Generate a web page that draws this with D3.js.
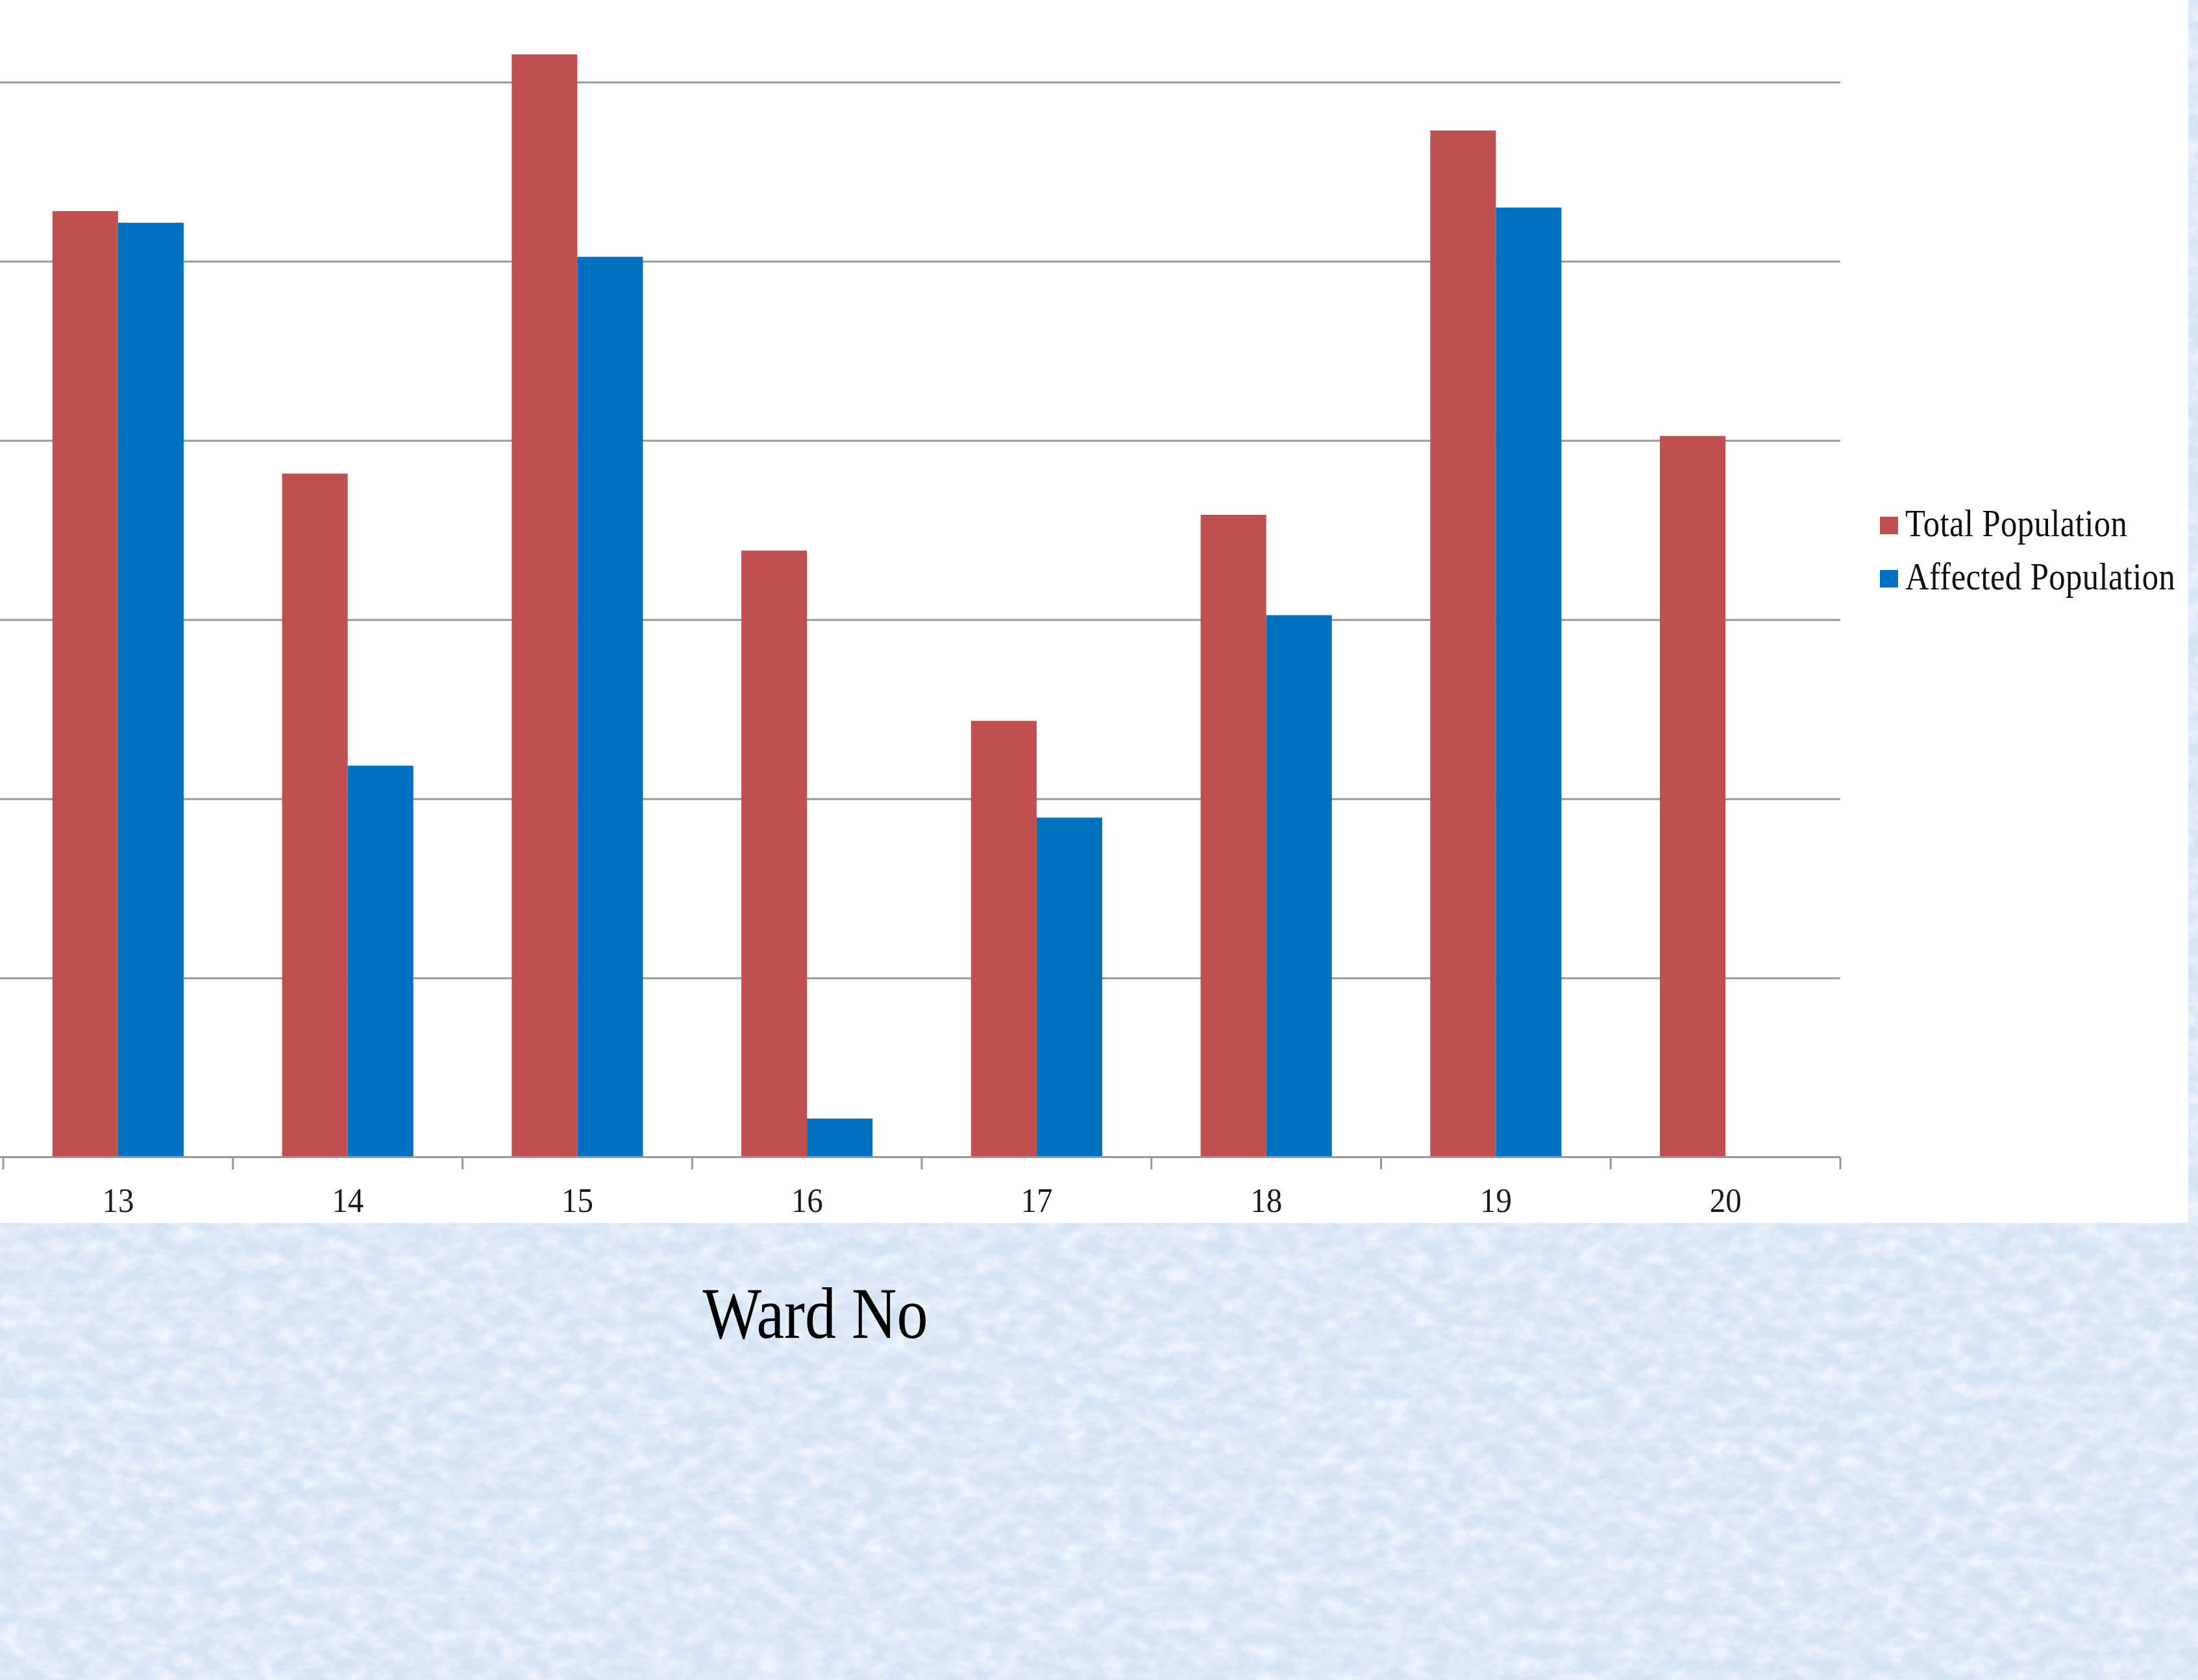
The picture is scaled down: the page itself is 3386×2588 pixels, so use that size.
<!DOCTYPE html>
<html>
<head>
<meta charset="utf-8">
<script src="https://cdn.jsdelivr.net/npm/d3@7"></script>
<style>
  html, body { margin: 0; padding: 0; background: #d7e5f5; }
  svg { display: block; }
</style>
</head>
<body>
<script>
// ward numbers on the x axis
let wards = ["13", "14", "15", "16", "17", "18", "19", "20"];
// series values (gridline step = 1000)
let totalPopulation    = [5280, 3815, 6155, 3385, 2435, 3585, 5730, 4025];
let affectedPopulation = [5215, 2185, 5025, 215, 1895, 3025, 5300, 0];
let seriesNames = ["Total Population", "Affected Population"];
let gridTicks = [0, 1000, 2000, 3000, 4000, 5000, 6000];
let xTitle = "Ward No";

let svgWidth = 3386;
let svgHeight = 2588;
// the chart is cut off on the left, so the plot starts at the page edge
let plot = {left: 5, right: 2835, top: 126.5, bottom: 1782.5};
let colors = ["#C0504D", "#0070C0"];

let svg = d3.select("body")
            .append("svg")
            .attr("width", svgWidth)
            .attr("height", svgHeight);

// blue tissue-paper background
let defs = svg.append("defs");
let tex = defs.append("filter")
              .attr("id", "tissue")
              .attr("x", 0).attr("y", 0)
              .attr("width", "100%").attr("height", "100%");
tex.append("feTurbulence")
   .attr("type", "fractalNoise")
   .attr("baseFrequency", "0.03 0.045")
   .attr("numOctaves", 4)
   .attr("seed", 7)
   .attr("result", "noise");
tex.append("feColorMatrix")
   .attr("in", "noise")
   .attr("type", "matrix")
   .attr("values", "0 0 0 0 1  0 0 0 0 1  0 0 0 0 1  1.8 0 0 0 -0.6");

svg.append("rect")
   .attr("width", svgWidth)
   .attr("height", svgHeight)
   .style("fill", "#d5e4f5");
svg.append("rect")
   .attr("width", svgWidth)
   .attr("height", svgHeight)
   .attr("filter", "url(#tissue)")
   .style("opacity", 0.7);

// white chart area
svg.append("rect")
   .attr("x", 0)
   .attr("y", 0)
   .attr("width", 3371)
   .attr("height", 1884)
   .style("fill", "#ffffff");

/*
 *  S C A L E S
 */
let xscale = d3.scaleBand()
  .domain(wards)
  .range([plot.left, plot.right])
  .paddingInner(0)
  .paddingOuter(0);
// two bars per ward, gap width 150% of a bar
let xsub = d3.scaleBand()
  .domain(seriesNames)
  .range([0, xscale.bandwidth()])
  .paddingInner(0)
  .paddingOuter(0.75);
let yscale = d3.scaleLinear()
  .domain([0, 6000])
  .range([plot.bottom, plot.top]);

/*
 *  G R I D
 */
let grid = d3.axisLeft()
             .scale(yscale)
             .tickValues(gridTicks.slice(1))
             .tickSize(-plot.right)
             .tickFormat("");
let gridG = svg.append("g")
               .attr("transform", "translate(0,0)")
               .call(grid);
gridG.select(".domain").remove();
gridG.selectAll(".tick line")
     .style("stroke", "#979797")
     .style("stroke-width", 3);

/*
 *  B A R S
 */
let rows = wards.map((w, i) => ({ward: w, values: [totalPopulation[i], affectedPopulation[i]]}));

let groups = svg.selectAll("g.ward")
                .data(rows)
                .enter()
                .append("g")
                  .attr("class", "ward")
                  .attr("transform", d => "translate(" + xscale(d.ward) + ",0)");
groups.selectAll("rect")
      .data(d => d.values.map((v, k) => ({name: seriesNames[k], value: v, k: k})))
      .enter()
      .append("rect")
        .attr("x", d => xsub(d.name))
        .attr("y", d => yscale(d.value))
        .attr("width", xsub.bandwidth())
        .attr("height", d => yscale(0) - yscale(d.value))
        .style("fill", d => colors[d.k]);

/*
 *  A X I S
 */
let hAxis = d3.axisBottom()
              .scale(xscale)
              .tickSize(0)
              .tickPadding(0)
              .tickFormat("");
let axisG = svg.append("g")
               .attr("transform", "translate(0," + plot.bottom + ")")
               .call(hAxis);
axisG.select(".domain").remove();
axisG.append("line")
     .attr("x1", 0)
     .attr("x2", plot.right)
     .style("stroke", "#979797")
     .style("stroke-width", 3);
// tick marks sit between the wards
let edges = wards.map(w => xscale(w)).concat([plot.right]);
axisG.selectAll("line.edge")
     .data(edges)
     .enter()
     .append("line")
       .attr("class", "edge")
       .attr("x1", d => d)
       .attr("x2", d => d)
       .attr("y1", 0)
       .attr("y2", 19)
       .style("stroke", "#979797")
       .style("stroke-width", 3);
axisG.selectAll("text.lbl")
     .data(wards)
     .enter()
     .append("text")
       .attr("class", "lbl")
       .attr("transform", d => "translate(" + (xscale(d) + xscale.bandwidth() / 2) + ",84) scale(1,1.07)")
       .style("text-anchor", "middle")
       .style("font-family", "'Liberation Serif', 'Times New Roman', serif")
       .style("font-size", "49px")
       .style("fill", "#1a1a1a")
       .text(d => d);

svg.append("text")
   .attr("transform", "translate(1256,2061) scale(1,1.16)")
   .style("text-anchor", "middle")
   .style("font-family", "'Liberation Serif', 'Times New Roman', serif")
   .style("font-size", "96px")
   .style("fill", "#000")
   .text(xTitle);

/*
 *  L E G E N D
 */
let legend = svg.selectAll("g.legend")
                .data(seriesNames)
                .enter()
                .append("g")
                  .attr("class", "legend")
                  .attr("transform", (d, i) => "translate(2896," + (826 + i * 82) + ")");
legend.append("rect")
      .attr("x", 0)
      .attr("y", -30)
      .attr("width", 28)
      .attr("height", 27)
      .style("fill", (d, i) => colors[i]);
legend.append("text")
      .attr("transform", "translate(39,0) scale(1,1.18)")
      .style("font-family", "'Liberation Serif', 'Times New Roman', serif")
      .style("font-size", "50.7px")
      .style("letter-spacing", "0.4px")
      .style("fill", "#111")
      .text(d => d);
</script>
</body>
</html>
